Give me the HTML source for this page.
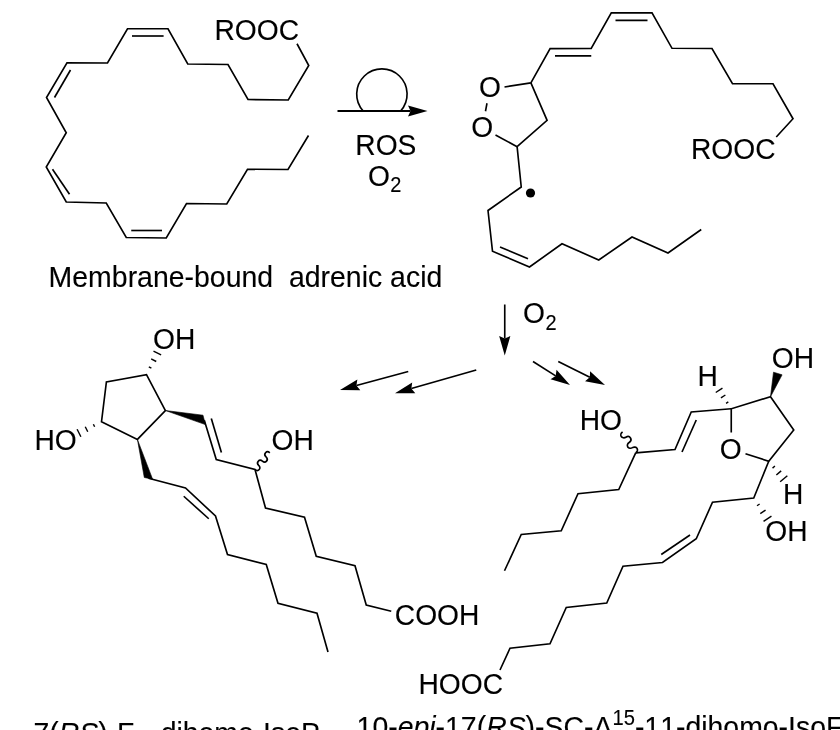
<!DOCTYPE html>
<html><head><meta charset="utf-8"><title>Adrenic acid oxidation scheme</title>
<style>
html,body{margin:0;padding:0;background:#fff;}
body{width:840px;height:730px;overflow:hidden;}
svg{display:block;filter:grayscale(100%);}
text{font-family:"Liberation Sans",Arial,Helvetica,sans-serif;fill:#000;stroke:#000;stroke-width:0.12px;font-kerning:none;}
</style></head>
<body>
<svg width="840" height="730" viewBox="0 0 840 730">
<rect width="840" height="730" fill="#fff"/>
<polyline points="297.00,43.75 308.75,65.50 288.25,100.00 248.00,99.50 228.00,64.50 187.75,64.00 168.00,28.75 127.50,28.75 107.50,63.00 67.00,62.80 46.50,97.50 66.25,132.75 46.25,167.00 66.25,202.00 106.25,203.00 126.25,237.50 166.25,238.00 186.50,203.50 226.75,204.00 247.50,169.25 288.00,169.50 308.50,135.50" fill="none" stroke="#000" stroke-width="1.65" stroke-linejoin="miter" stroke-linecap="butt"/>
<polyline points="132.00,36.00 163.60,36.00" fill="none" stroke="#000" stroke-width="1.65" stroke-linejoin="miter" stroke-linecap="butt"/>
<polyline points="70.50,70.00 54.50,97.50" fill="none" stroke="#000" stroke-width="1.65" stroke-linejoin="miter" stroke-linecap="butt"/>
<polyline points="52.50,169.25 69.50,194.25" fill="none" stroke="#000" stroke-width="1.65" stroke-linejoin="miter" stroke-linecap="butt"/>
<polyline points="131.25,230.50 162.00,230.50" fill="none" stroke="#000" stroke-width="1.65" stroke-linejoin="miter" stroke-linecap="butt"/>
<text transform="translate(214.5,39.5) scale(1.0,1.06)" font-size="28.2" text-anchor="start" >ROOC</text>
<text transform="translate(48.6,286.6) scale(1.009,1.06)" font-size="28.2" text-anchor="start" >Membrane-bound&#160; adrenic acid</text>
<polyline points="337.50,111.00 410.50,111.00" fill="none" stroke="#000" stroke-width="2" stroke-linejoin="miter" stroke-linecap="butt"/>
<polygon points="427.50,111.00 408.00,116.60 410.50,111.00 408.00,105.40" fill="#000"/>
<path d="M363.2,111 A25.2,25.2 0 1 1 400.6,111" fill="none" stroke="#000" stroke-width="1.65"/>
<text transform="translate(355.3,154.8) scale(1.0,1.06)" font-size="28.2" text-anchor="start" >ROS</text>
<text transform="translate(368.1,185.5) scale(1.0,1.06)" font-size="28.2" text-anchor="start" >O<tspan font-size="20" dx="0.3" dy="6.3">2</tspan></text>
<text transform="translate(479.0,97.4) scale(1.0,1.06)" font-size="28.2" text-anchor="start" >O</text>
<text transform="translate(471.2,137.2) scale(1.0,1.06)" font-size="28.2" text-anchor="start" >O</text>
<polyline points="504.50,87.00 530.90,82.90" fill="none" stroke="#000" stroke-width="1.65" stroke-linejoin="miter" stroke-linecap="butt"/>
<polyline points="530.90,82.90 547.10,120.30 517.10,146.70" fill="none" stroke="#000" stroke-width="1.65" stroke-linejoin="miter" stroke-linecap="butt"/>
<polyline points="517.10,146.70 495.50,135.00" fill="none" stroke="#000" stroke-width="1.65" stroke-linejoin="miter" stroke-linecap="butt"/>
<polyline points="487.00,103.25 485.50,111.25" fill="none" stroke="#000" stroke-width="1.65" stroke-linejoin="miter" stroke-linecap="butt"/>
<polyline points="530.90,82.90 550.10,48.60 591.20,48.50 611.30,12.90 652.00,12.90 672.00,48.30 712.00,48.50 732.50,83.75 773.00,83.75 793.00,118.75 776.25,137.00" fill="none" stroke="#000" stroke-width="1.65" stroke-linejoin="miter" stroke-linecap="butt"/>
<polyline points="555.00,55.90 591.25,55.90" fill="none" stroke="#000" stroke-width="1.65" stroke-linejoin="miter" stroke-linecap="butt"/>
<polyline points="615.50,20.30 647.50,20.30" fill="none" stroke="#000" stroke-width="1.65" stroke-linejoin="miter" stroke-linecap="butt"/>
<text transform="translate(691.0,159.0) scale(1.0,1.06)" font-size="28.2" text-anchor="start" >ROOC</text>
<polyline points="517.10,146.70 521.25,187.00 488.00,210.50 492.50,251.25 529.50,267.00 562.00,243.75 598.75,260.00 632.00,237.00 668.00,253.00 701.25,229.50" fill="none" stroke="#000" stroke-width="1.65" stroke-linejoin="miter" stroke-linecap="butt"/>
<polyline points="500.00,247.00 528.00,258.75" fill="none" stroke="#000" stroke-width="1.65" stroke-linejoin="miter" stroke-linecap="butt"/>
<circle cx="530.5" cy="193" r="4.6" fill="#000"/>
<polyline points="504.75,304.50 504.75,338.50" fill="none" stroke="#000" stroke-width="1.65" stroke-linejoin="miter" stroke-linecap="butt"/>
<polygon points="504.75,355.50 499.15,336.00 504.75,338.50 510.35,336.00" fill="#000"/>
<text transform="translate(523.0,322.6) scale(1.0,1.06)" font-size="28.2" text-anchor="start" >O<tspan font-size="20" dx="0.5" dy="6.6">2</tspan></text>
<polyline points="408.25,371.50 356.41,385.55" fill="none" stroke="#000" stroke-width="1.65" stroke-linejoin="miter" stroke-linecap="butt"/>
<polygon points="340.00,390.00 357.36,379.49 356.41,385.55 360.29,390.30" fill="#000"/>
<polyline points="476.25,370.00 411.34,388.57" fill="none" stroke="#000" stroke-width="1.65" stroke-linejoin="miter" stroke-linecap="butt"/>
<polygon points="395.00,393.25 412.21,382.50 411.34,388.57 415.29,393.27" fill="#000"/>
<polyline points="533.00,361.50 555.65,375.89" fill="none" stroke="#000" stroke-width="1.65" stroke-linejoin="miter" stroke-linecap="butt"/>
<polygon points="570.00,385.00 550.54,379.27 555.65,375.89 556.54,369.82" fill="#000"/>
<polyline points="558.25,361.50 589.81,377.36" fill="none" stroke="#000" stroke-width="1.65" stroke-linejoin="miter" stroke-linecap="butt"/>
<polygon points="605.00,385.00 585.06,381.25 589.81,377.36 590.09,371.24" fill="#000"/>
<polyline points="146.50,374.70 106.40,382.00 101.50,421.70 137.40,439.40 165.40,410.50 146.50,374.70 106.40,382.00" fill="none" stroke="#000" stroke-width="1.65" stroke-linejoin="miter" stroke-linecap="butt"/>
<line x1="151.37" y1="368.10" x2="148.83" y2="366.84" stroke="#000" stroke-width="1.4"/>
<line x1="156.24" y1="361.50" x2="151.16" y2="358.97" stroke="#000" stroke-width="1.4"/>
<line x1="161.10" y1="354.89" x2="153.50" y2="351.11" stroke="#000" stroke-width="1.4"/>
<line x1="93.36" y1="424.20" x2="94.64" y2="426.73" stroke="#000" stroke-width="1.4"/>
<line x1="85.23" y1="426.70" x2="87.77" y2="431.77" stroke="#000" stroke-width="1.4"/>
<line x1="77.09" y1="429.20" x2="80.91" y2="436.80" stroke="#000" stroke-width="1.4"/>
<text transform="translate(153.1,348.7) scale(1.0,1.06)" font-size="28.2" text-anchor="start" >OH</text>
<text transform="translate(34.4,450.25) scale(1.0,1.06)" font-size="28.2" text-anchor="start" >HO</text>
<polygon points="165.40,410.50 203.00,415.20 205.40,424.60" fill="#000" stroke="#000" stroke-width="0.6" stroke-linejoin="miter"/>
<polyline points="204.30,420.30 216.25,459.50 255.00,469.50 265.50,508.00 304.50,517.25 316.25,556.25 355.00,565.75 366.25,605.00 391.25,611.25" fill="none" stroke="#000" stroke-width="1.65" stroke-linejoin="miter" stroke-linecap="butt"/>
<polyline points="211.30,418.50 221.40,452.60" fill="none" stroke="#000" stroke-width="1.65" stroke-linejoin="miter" stroke-linecap="butt"/>
<path d="M255.00,469.50 A2.79,3.21 -48.5 0 0 258.70,465.32 A2.79,3.21 -48.5 0 1 262.40,461.15 A2.79,3.21 -48.5 0 0 266.10,456.98 A2.79,3.21 -48.5 0 1 269.80,452.80" fill="none" stroke="#000" stroke-width="1.65"/>
<text transform="translate(271.5,450.1) scale(1.0,1.06)" font-size="28.2" text-anchor="start" >OH</text>
<polygon points="137.40,439.40 144.30,477.50 152.60,479.20" fill="#000" stroke="#000" stroke-width="0.6" stroke-linejoin="miter"/>
<polyline points="148.50,478.30 185.50,488.00 215.50,516.00 227.50,554.50 266.25,564.50 278.00,603.25 317.00,613.25 328.00,652.00" fill="none" stroke="#000" stroke-width="1.65" stroke-linejoin="miter" stroke-linecap="butt"/>
<polyline points="183.75,496.25 208.75,518.75" fill="none" stroke="#000" stroke-width="1.65" stroke-linejoin="miter" stroke-linecap="butt"/>
<text transform="translate(394.8,624.9) scale(1.0,1.06)" font-size="28.2" text-anchor="start" >COOH</text>
<text transform="translate(33.6,742.8) scale(1.006,1.06)" font-size="28.2" text-anchor="start" >7(<tspan font-style="italic">RS</tspan>)-F<tspan font-size="20" dy="6.5">2t</tspan><tspan dy="-6.5">-dihomo-IsoP</tspan></text>
<polyline points="731.25,432.50 731.25,408.75 770.50,396.75 793.75,430.00 768.75,461.25 745.50,453.75" fill="none" stroke="#000" stroke-width="1.65" stroke-linejoin="miter" stroke-linecap="butt"/>
<text transform="translate(719.8,458.8) scale(1.0,1.06)" font-size="28.2" text-anchor="start" >O</text>
<polygon points="770.50,396.75 782.09,374.85 773.51,372.15" fill="#000" stroke="#000" stroke-width="0.6" stroke-linejoin="miter"/>
<text transform="translate(771.8,367.5) scale(1.0,1.06)" font-size="28.2" text-anchor="start" >OH</text>
<line x1="728.31" y1="401.87" x2="726.09" y2="403.33" stroke="#000" stroke-width="1.4"/>
<line x1="725.38" y1="394.98" x2="720.92" y2="397.92" stroke="#000" stroke-width="1.4"/>
<line x1="722.44" y1="388.10" x2="715.76" y2="392.50" stroke="#000" stroke-width="1.4"/>
<text transform="translate(697.5,385.7) scale(1.0,1.06)" font-size="28.2" text-anchor="start" >H</text>
<line x1="772.55" y1="468.11" x2="774.95" y2="466.05" stroke="#000" stroke-width="1.4"/>
<line x1="776.35" y1="474.98" x2="781.15" y2="470.86" stroke="#000" stroke-width="1.4"/>
<line x1="780.14" y1="481.84" x2="787.36" y2="475.66" stroke="#000" stroke-width="1.4"/>
<text transform="translate(783.0,504.2) scale(1.0,1.06)" font-size="28.2" text-anchor="start" >H</text>
<polyline points="731.25,408.75 691.25,412.00 675.00,449.50 635.70,452.90" fill="none" stroke="#000" stroke-width="1.65" stroke-linejoin="miter" stroke-linecap="butt"/>
<polyline points="696.25,420.00 682.00,452.00" fill="none" stroke="#000" stroke-width="1.65" stroke-linejoin="miter" stroke-linecap="butt"/>
<path d="M635.70,452.90 A3.08,3.55 -122.1 0 0 632.43,447.67 A3.08,3.55 -122.1 0 1 629.15,442.45 A3.08,3.55 -122.1 0 0 625.88,437.23 A3.08,3.55 -122.1 0 1 622.60,432.00" fill="none" stroke="#000" stroke-width="1.65"/>
<text transform="translate(579.7,429.7) scale(1.0,1.06)" font-size="28.2" text-anchor="start" >HO</text>
<polyline points="635.70,452.90 618.75,489.50 578.00,493.75 561.25,530.75 521.25,534.50 504.50,570.75" fill="none" stroke="#000" stroke-width="1.65" stroke-linejoin="miter" stroke-linecap="butt"/>
<polyline points="768.75,461.25 753.75,498.00 712.50,502.25 696.25,538.75 662.50,562.50 623.00,566.25 606.75,603.00 566.25,607.50 550.00,643.75 510.00,648.25 500.00,670.00" fill="none" stroke="#000" stroke-width="1.65" stroke-linejoin="miter" stroke-linecap="butt"/>
<polyline points="690.00,535.00 661.25,554.50" fill="none" stroke="#000" stroke-width="1.65" stroke-linejoin="miter" stroke-linecap="butt"/>
<line x1="757.01" y1="505.79" x2="759.65" y2="504.04" stroke="#000" stroke-width="1.4"/>
<line x1="760.28" y1="513.58" x2="765.56" y2="510.08" stroke="#000" stroke-width="1.4"/>
<line x1="763.54" y1="521.37" x2="771.46" y2="516.13" stroke="#000" stroke-width="1.4"/>
<text transform="translate(765.3,540.5) scale(1.0,1.06)" font-size="28.2" text-anchor="start" >OH</text>
<text transform="translate(418.5,694.2) scale(1.0,1.06)" font-size="28.2" text-anchor="start" >HOOC</text>
<text transform="translate(356.6,736.6) scale(1.008,1.06)" font-size="28.2" text-anchor="start" >10-<tspan font-style="italic">epi</tspan>-17(<tspan font-style="italic">RS</tspan>)-SC-&#916;<tspan font-size="20" dy="-11.05">15</tspan><tspan dy="11.05">-11-dihomo-IsoF</tspan></text>
</svg>
</body></html>
